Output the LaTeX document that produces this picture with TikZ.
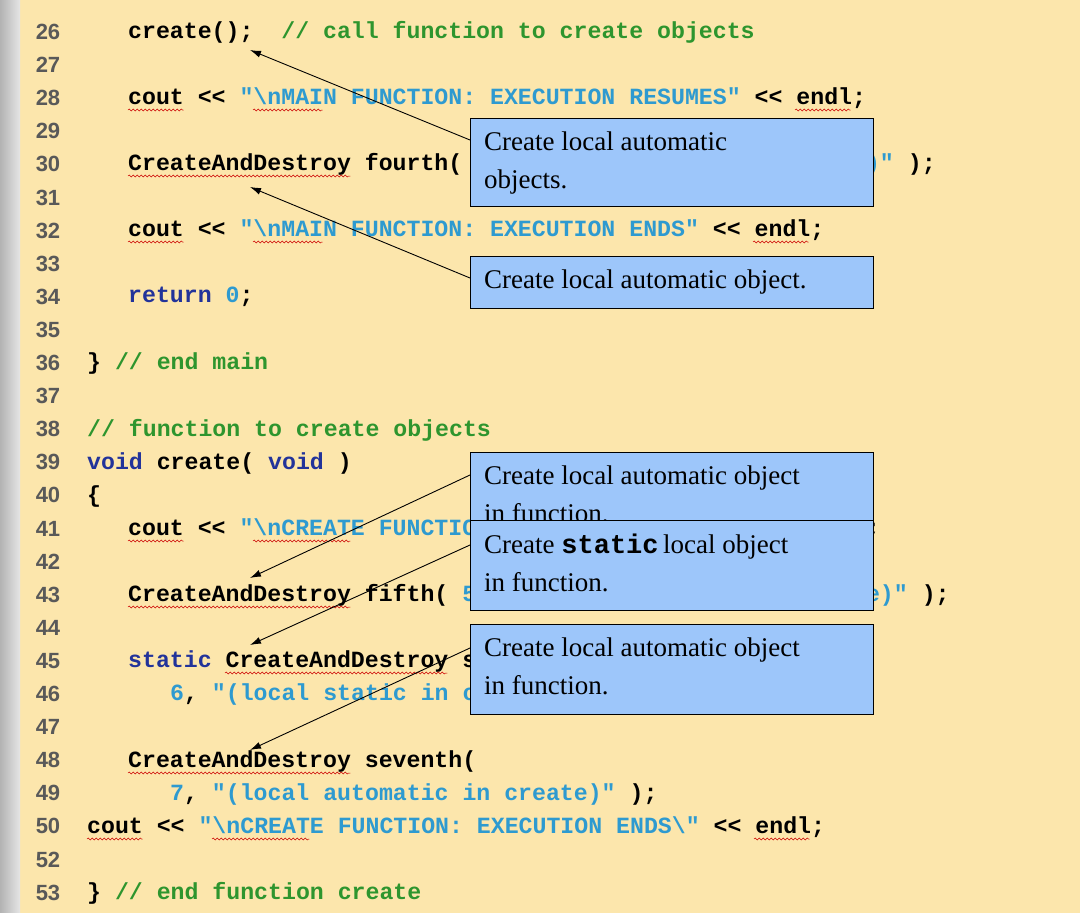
\documentclass[tikz,border=0pt]{standalone}
\usepackage{fontspec}
\setmainfont{Liberation Serif}
\setsansfont{Liberation Sans}
\setmonofont{Liberation Mono}
\usetikzlibrary{arrows.meta,decorations.pathmorphing}
\definecolor{bg}{HTML}{FCE6AC}
\definecolor{strc}{HTML}{2E9AD0}
\definecolor{cmt}{HTML}{2E952E}
\definecolor{kw}{HTML}{22339A}
\definecolor{boxc}{HTML}{9DC6FA}
\newcommand{\St}[1]{\textcolor{strc}{#1}}
\newcommand{\Cm}[1]{\textcolor{cmt}{#1}}
\newcommand{\Kw}[1]{\textcolor{kw}{#1}}
\newcommand{\bs}{\textbackslash}
\tikzset{
  code/.style={anchor=west,inner sep=0pt,font=\ttfamily\bfseries\fontsize{23.2}{28}\selectfont},
  num/.style={anchor=center,inner sep=0pt,text=black!65,font=\sffamily\bfseries\fontsize{22}{26}\selectfont},
  note/.style={draw=black,fill=boxc,line width=0.8pt,minimum width=403pt,anchor=north west,inner sep=0pt},
  notetxt/.style={anchor=north west,inner sep=0pt,align=left,font=\fontsize{27}{38}\selectfont},
  arr/.style={line width=0.9pt,-{Latex[length=11pt,width=7pt]}},
  squig/.style={red!80!black,line width=0.5pt,decorate,decoration={snake,segment length=4pt,amplitude=1pt}}
}
\newcommand{\sq}[3]{\draw[squig] (#1,#3+12) -- ({#1+#2*13.9},#3+12);}
\begin{document}
\begin{tikzpicture}[x=1pt,y=-1pt]
\useasboundingbox (0,0) rectangle (1080,913);
\fill[bg] (0,0) rectangle (1080,913);
\shade[left color=black!30,right color=black!10] (0,0) rectangle (20,913);
\foreach \n [count=\i from 0] in {26,...,50}{
  \node[num] (n\n) at (48,{32+\i*33.1}) {\n};
}
\node[num] (n52) at (48,860) {52};
\node[num] (n53) at (48,893) {53};
% code
\node[code] (c26) at (128,32) {create();\ \ \Cm{// call function to create objects}};
\node[code] (c28) at (128,98) {cout << \St{"\bs nMAIN FUNCTION: EXECUTION RESUMES"} << endl;};
\node[code] (c30) at (128,164) {CreateAndDestroy fourth( \St{4}, \St{"(local automatic in main)"} );};
\node[code] (c32) at (128,230) {cout << \St{"\bs nMAIN FUNCTION: EXECUTION ENDS"} << endl;};
\node[code] (c34) at (128,297) {\Kw{return} \St{0};};
\node[code] (c36) at (87,363) {\} \Cm{// end main}};
\node[code] (c38) at (87,430) {\Cm{// function to create objects}};
\node[code] (c39) at (87,463) {\Kw{void} create( \Kw{void} )};
\node[code] (c40) at (87,496) {\{};
\node[code] (c41) at (128,529) {cout << \St{"\bs nCREATE FUNCTION: EXECUTION BEGINS"} << endl;};
\node[code] (c43) at (128,595) {CreateAndDestroy fifth( \St{5}, \St{"(local automatic in create)"} );};
\node[code] (c45) at (128,661) {\Kw{static} CreateAndDestroy sixth(};
\node[code] (c46) at (170,694) {\St{6}, \St{"(local static in create)"} );};
\node[code] (c48) at (128,761) {CreateAndDestroy seventh(};
\node[code] (c49) at (170,794) {\St{7}, \St{"(local automatic in create)"} );};
\node[code] (c50) at (87,827) {cout << \St{"\bs nCREATE FUNCTION: EXECUTION ENDS\bs "} << endl;};
\node[code] (c53) at (87,893) {\} \Cm{// end function create}};
% squiggles
\sq{128}{4}{98} \sq{253}{5}{98} \sq{795}{4}{98}
\sq{128}{16}{164}
\sq{128}{4}{230} \sq{253}{5}{230} \sq{753}{4}{230}
\sq{128}{4}{529} \sq{253}{7}{529}
\sq{128}{16}{595}
\sq{225}{16}{661}
\sq{128}{16}{761}
\sq{87}{4}{827} \sq{212}{7}{827} \sq{754}{4}{827}
% arrow targets
\coordinate (t1) at (250,50);
\coordinate (t2) at (250,187);
\coordinate (t3) at (250,578);
\coordinate (t4) at (250,645);
\coordinate (t5) at (250,750);
% boxes
\node[note,minimum height=88pt] (b1) at (470,118) {};
\node[notetxt] (x1) at (484,132) {Create local automatic\\objects.};
\node[note,minimum height=52pt] (b2) at (470,256) {};
\node[notetxt] (x2) at (484,270) {Create local automatic object.};
\node[note,minimum height=70pt] (b3) at (470,452) {};
\node[notetxt] (x3) at (484,466) {Create local automatic object\\in function.};
\node[note,minimum height=90pt] (b4) at (470,520) {};
\node[notetxt] (x4) at (484,534) {Create {\ttfamily\bfseries static}\,local object\\in function.};
\node[note,minimum height=90pt] (b5) at (470,624) {};
\node[notetxt] (x5) at (484,638) {Create local automatic object\\in function.};
% arrows
\draw[arr] ([yshift=-22pt]b1.north west) -- (t1);
\draw[arr] ([yshift=-22pt]b2.north west) -- (t2);
\draw[arr] ([yshift=-23pt]b3.north west) -- (t3);
\draw[arr] ([yshift=-25pt]b4.north west) -- (t4);
\draw[arr] ([yshift=-24pt]b5.north west) -- (t5);
\end{tikzpicture}
\end{document}
